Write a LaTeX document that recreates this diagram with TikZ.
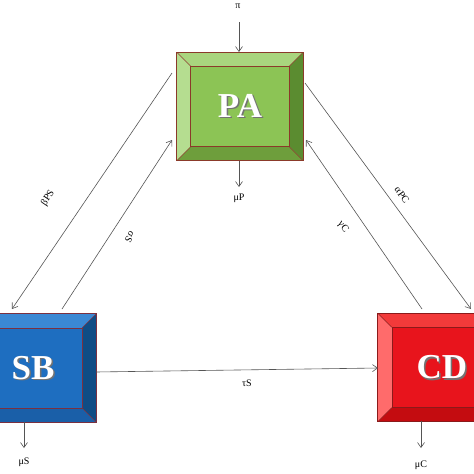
\documentclass[tikz,border=0pt]{standalone}
\usepackage{fontspec}
\setmainfont{Liberation Serif}
\usetikzlibrary{arrows.meta}
\definecolor{paface}{HTML}{8CC455}
\definecolor{patop}{HTML}{A9D57E}
\definecolor{paleft}{HTML}{B5DD90}
\definecolor{paright}{HTML}{5B8C30}
\definecolor{pabot}{HTML}{6E9E3C}
\definecolor{paedge}{HTML}{8B3A2A}
\definecolor{sbface}{HTML}{1E6EC0}
\definecolor{sbtop}{HTML}{3A88D4}
\definecolor{sbright}{HTML}{0F4C85}
\definecolor{sbbot}{HTML}{1A5FA8}
\definecolor{sbedge}{HTML}{7A3040}
\definecolor{cdface}{HTML}{E8141C}
\definecolor{cdtop}{HTML}{F23A3A}
\definecolor{cdleft}{HTML}{FF6B6B}
\definecolor{cdright}{HTML}{B00000}
\definecolor{cdbot}{HTML}{C40C10}
\definecolor{cdedge}{HTML}{8B1A1A}
\definecolor{linec}{HTML}{555555}
\newcommand\shadowed[1]{\makebox[0pt][l]{\hspace{1.5pt}\raisebox{-1.5pt}{\color{black!55}#1}}#1}
\tikzset{
  outerbox/.style={rectangle, inner sep=0pt, minimum width=126pt, minimum height=108pt},
  innerbox/.style={rectangle, inner sep=0pt, minimum width=98pt, minimum height=80pt},
  flow/.style={draw=linec, line width=0.6pt, -{Straight Barb[length=5pt,width=7pt]}},
  lbl/.style={font=\fontsize{10}{12}\selectfont, inner sep=1pt},
  bigtxt/.style={font=\fontsize{35}{38}\selectfont\bfseries, text=white},
}
\begin{document}
\begin{tikzpicture}[x=1pt,y=-1pt]
\useasboundingbox (0,0) rectangle (474,474);
\clip (0,0) rectangle (474,474);
\fill[white] (0,0) rectangle (474,474);

% ---------- PA box ----------
\node[outerbox] (PA) at (240,106.5) {};
\node[innerbox] (PAi) at (240,106.5) {};
\fill[paface] (PAi.north west) rectangle (PAi.south east);
\fill[patop] (PA.north west) -- (PA.north east) -- (PAi.north east) -- (PAi.north west) -- cycle;
\fill[paleft] (PA.north west) -- (PAi.north west) -- (PAi.south west) -- (PA.south west) -- cycle;
\fill[paright] (PA.north east) -- (PAi.north east) -- (PAi.south east) -- (PA.south east) -- cycle;
\fill[pabot] (PA.south west) -- (PAi.south west) -- (PAi.south east) -- (PA.south east) -- cycle;
\draw[paedge, line width=1pt] (PA.north west) rectangle (PA.south east);
\draw[paedge, line width=0.8pt] (PAi.north west) rectangle (PAi.south east);
\draw[paedge, line width=0.6pt] (PA.north west) -- (PAi.north west) (PA.north east) -- (PAi.north east)
  (PA.south west) -- (PAi.south west) (PA.south east) -- (PAi.south east);
\node[bigtxt] (PAt) at (240,106.5) {\shadowed{PA}};

% ---------- SB box ----------
\node[outerbox] (SB) at (33,368) {};
\node[innerbox] (SBi) at (33,368) {};
\fill[sbface] (SBi.north west) rectangle (SBi.south east);
\fill[sbtop] (SB.north west) -- (SB.north east) -- (SBi.north east) -- (SBi.north west) -- cycle;
\fill[sbtop] (SB.north west) -- (SBi.north west) -- (SBi.south west) -- (SB.south west) -- cycle;
\fill[sbright] (SB.north east) -- (SBi.north east) -- (SBi.south east) -- (SB.south east) -- cycle;
\fill[sbbot] (SB.south west) -- (SBi.south west) -- (SBi.south east) -- (SB.south east) -- cycle;
\draw[sbedge, line width=0.8pt] (SB.north west) rectangle (SB.south east);
\draw[sbedge, line width=0.6pt] (SBi.north west) rectangle (SBi.south east);
\draw[sbedge, line width=0.5pt] (SB.north east) -- (SBi.north east) (SB.south east) -- (SBi.south east);
\node[bigtxt] (SBt) at (33,368.5) {\shadowed{SB}};

% ---------- CD box ----------
\node[outerbox] (CD) at (441,367.5) {};
\node[innerbox] (CDi) at (441,367.5) {};
\fill[cdface] (CDi.north west) rectangle (CDi.south east);
\fill[cdtop] (CD.north west) -- (CD.north east) -- (CDi.north east) -- (CDi.north west) -- cycle;
\fill[cdleft] (CD.north west) -- (CDi.north west) -- (CDi.south west) -- (CD.south west) -- cycle;
\fill[cdright] (CD.north east) -- (CDi.north east) -- (CDi.south east) -- (CD.south east) -- cycle;
\fill[cdbot] (CD.south west) -- (CDi.south west) -- (CDi.south east) -- (CD.south east) -- cycle;
\draw[cdedge, line width=0.8pt] (CD.north west) rectangle (CD.south east);
\draw[cdedge, line width=0.6pt] (CDi.north west) rectangle (CDi.south east);
\draw[cdedge, line width=0.5pt] (CD.north west) -- (CDi.north west) (CD.south west) -- (CDi.south west);
\node[bigtxt] (CDt) at (442,368) {\shadowed{CD}};

% ---------- endpoints ----------
\coordinate (piS) at (239,22);
\coordinate (piE) at (239,52);
\coordinate (muPS) at (239,161);
\coordinate (muPE) at (239,187);
\coordinate (bS) at (172,73);
\coordinate (bE) at (12,309);
\coordinate (sS) at (62,309);
\coordinate (sE) at (172,140);
\coordinate (aS) at (305,83);
\coordinate (aE) at (471,309);
\coordinate (gS) at (422,309);
\coordinate (gE) at (306,140);
\coordinate (tS) at (96,372);
\coordinate (tE) at (378,368);
\coordinate (muSS) at (24,422);
\coordinate (muSE) at (24,448);
\coordinate (muCS) at (421,421);
\coordinate (muCE) at (421,448);

% ---------- connectors ----------
\draw[flow] (piS) -- (piE);
\draw[flow] (muPS) -- (muPE);
\draw[flow] (bS) -- (bE);
\draw[flow] (sS) -- (sE);
\draw[flow] (aS) -- (aE);
\draw[flow] (gS) -- (gE);
\draw[flow] (tS) -- (tE);
\draw[flow] (muSS) -- (muSE);
\draw[flow] (muCS) -- (muCE);

% ---------- labels ----------
\node[lbl] (lpi) at (238,6) {π};
\node[lbl] (lmuP) at (239,198) {μP};
\node[lbl, rotate=56] (lb) at (48,198) {βPS};
\node[lbl, rotate=237] (ls) at (130,237) {σS};
\node[lbl, rotate=-54] (la) at (402,195) {αPC};
\node[lbl, rotate=-55] (lg) at (343,227) {γC};
\node[lbl] (lt) at (247,383) {τS};
\node[lbl] (lmuS) at (24,462) {μS};
\node[lbl] (lmuC) at (421,465) {μC};
\end{tikzpicture}
\end{document}
